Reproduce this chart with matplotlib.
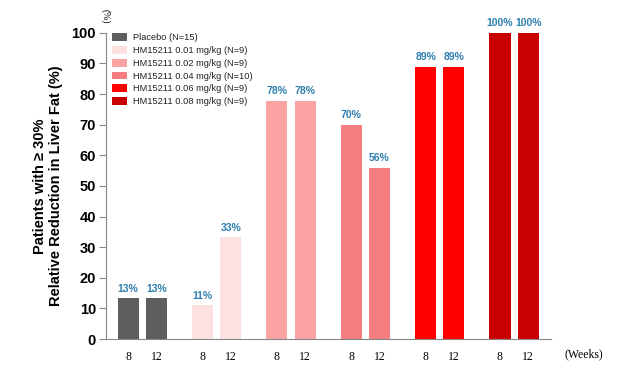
import matplotlib
matplotlib.use("Agg")
import matplotlib.pyplot as plt
import numpy as np

groups = ["Placebo (N=15)", "HM15211 0.01 mg/kg (N=9)", "HM15211 0.02 mg/kg (N=9)",
          "HM15211 0.04 mg/kg (N=10)", "HM15211 0.06 mg/kg (N=9)", "HM15211 0.08 mg/kg (N=9)"]
week8 = [13.3, 11.1, 77.8, 70.0, 88.9, 100.0]
week12 = [13.3, 33.3, 77.8, 56.0, 88.9, 100.0]
labels8 = ["13%", "11%", "78%", "70%", "89%", "100%"]
labels12 = ["13%", "33%", "78%", "56%", "89%", "100%"]
weeks = ["8", "12"]
colors = ["#5e5e5e", "#fde0e0", "#fba3a3", "#f77e7e", "#ff0000", "#c80000"]

plt.rcParams["font.family"] = ["Liberation Sans", "DejaVu Sans"]
fig = plt.figure(figsize=(6.3, 3.69), dpi=100)
ax = fig.add_axes([0.168, 0.081, 0.707, 0.83])

x = np.arange(len(groups))
off, w = 0.19, 0.285
for i in range(len(groups)):
    ax.bar(x[i] - off, week8[i], w, color=colors[i], label=groups[i])
    ax.bar(x[i] + off, week12[i], w, color=colors[i])
    ax.text(x[i] - off, week8[i] + 1.5, labels8[i], ha="center", va="bottom",
            color="#2e7fae", fontsize=7.5, fontweight="bold")
    ax.text(x[i] + off, week12[i] + 1.5, labels12[i], ha="center", va="bottom",
            color="#2e7fae", fontsize=7.5, fontweight="bold")
    for dx, wk in zip((-off, off), weeks):
        ax.text(x[i] + dx, -4.0, wk, ha="center", va="top", fontsize=8.5,
                family="Liberation Serif")

ax.set_xlim(-0.49, 5.5)
ax.set_ylim(0, 100)
ax.set_yticks(range(0, 101, 10))
ax.set_yticklabels([str(v) for v in range(0, 101, 10)], fontsize=10.5, fontweight="bold")
ax.set_xticks([])
for s in ["top", "right"]:
    ax.spines[s].set_visible(False)
for s in ["left", "bottom"]:
    ax.spines[s].set_color("#888888")
ax.tick_params(axis="y", length=5, color="#888888", pad=2)
ax.set_ylabel("Patients with \u2265 30%\nRelative Reduction in Liver Fat (%)",
              fontsize=10.5, fontweight="bold", labelpad=6)

ax.text(0, 1.03, "(%)", transform=ax.transAxes, rotation=-90, fontsize=7,
        ha="center", va="bottom", family="Liberation Serif")
ax.text(1.03, -0.03, "(Weeks)", transform=ax.transAxes, fontsize=8.5,
        ha="left", va="top", family="Liberation Serif")

ax.legend(loc="upper left", bbox_to_anchor=(0.0, 1.02), frameon=False, fontsize=6.7,
          handlelength=1.6, handleheight=0.9, labelspacing=0.4, handletextpad=0.6,
          borderaxespad=0.3, labelcolor="#222222")
fig.savefig("out.png", dpi=100)
